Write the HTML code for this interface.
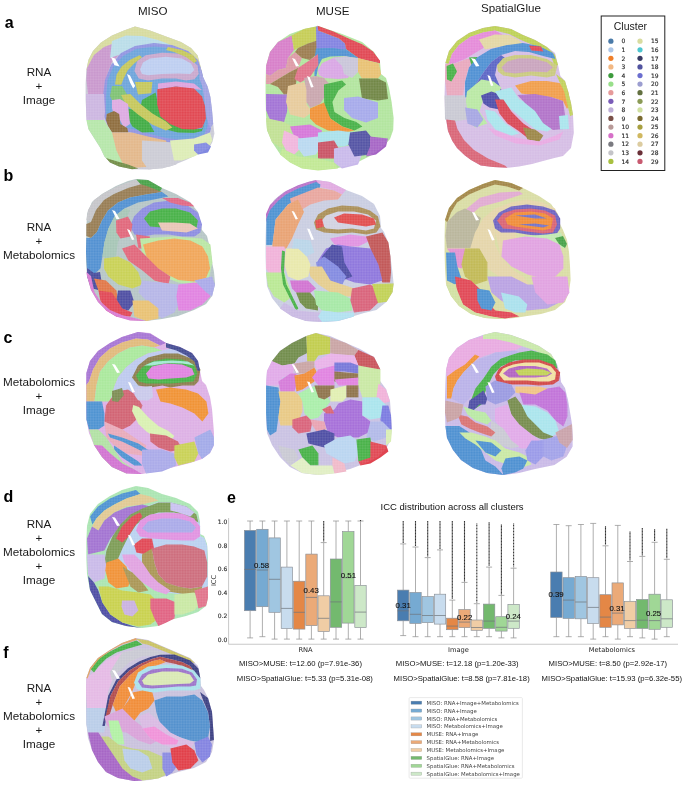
<!DOCTYPE html>
<html><head><meta charset="utf-8"><style>
html,body{margin:0;padding:0;background:#fff;}
body{width:685px;height:789px;overflow:hidden;}
svg{display:block;}
text{font-family:"Liberation Sans",Arial,sans-serif;fill:#1a1a1a;}
.hd{font-size:11.6px;}
.pl{font-size:16px;font-weight:bold;fill:#000;}
.rl{font-size:11.7px;}
.cl{font-size:10.5px;}
.ln{font-family:"DejaVu Sans",sans-serif;font-size:6px;fill:#222;stroke:#222;stroke-width:0.12px;}
.tk{font-family:"DejaVu Sans",sans-serif;font-size:6px;fill:#333;stroke:#333;stroke-width:0.15px;}
.yl{font-family:"DejaVu Sans",sans-serif;font-size:6.6px;fill:#333;}
.gl{font-family:"DejaVu Sans",sans-serif;font-size:6.7px;fill:#222;}
.lg{font-family:"DejaVu Sans",sans-serif;font-size:5.4px;fill:#444;}
.mn{font-size:7.8px;fill:#111;stroke:#111;stroke-width:0.12px;}
.ti{font-size:9.5px;fill:#111;}
.st{font-size:7.7px;fill:#111;}
.wh{stroke:#939393;stroke-width:0.75;}
.ol{stroke:#333;stroke-width:1.1;stroke-dasharray:1.2 0.3;}
.bx{stroke:#8a8f96;stroke-width:0.65;}
.md{stroke:#6f747a;stroke-width:0.7;}
</style></head><body>
<svg width="685" height="789" viewBox="0 0 685 789">
<rect width="685" height="789" fill="#fff"/>
<defs><pattern id="gr" width="8" height="8" patternUnits="userSpaceOnUse"><rect width="8" height="2" fill="#fff" fill-opacity="0.16"/><rect width="2" height="8" fill="#fff" fill-opacity="0.16"/></pattern></defs>
<g transform="translate(82,20) scale(0.2)">
<polygon fill="#c9c9d6" points="265,33 340,52 420,82 495,110 545,140 578,178 592,230 604,282 628,332 642,385 650,450 656,520 662,568 652,610 636,640 600,660 560,680 520,700 440,732 340,748 255,746 185,732 140,712 112,682 92,640 62,592 32,545 22,480 18,400 18,320 22,250 32,200 55,155 95,112 150,78 210,52"/>
<polygon fill="#d6da9c" points="22,250 32,200 55,155 95,112 150,78 210,52 265,33 340,52 420,82 495,110 545,140 578,178 592,230 604,282 580,290 560,220 520,170 440,130 350,100 270,80 200,95 140,125 90,165 60,215 40,260"/>
<polygon fill="#c896cc" points="25,240 60,175 110,135 170,112 210,130 190,170 150,210 130,260 120,320 110,370 30,370 22,300"/>
<polygon fill="#b8dce8" points="150,105 220,78 300,80 380,100 440,122 420,140 330,132 250,142 190,172 140,190"/>
<polygon fill="#8e92e0" points="105,380 115,300 145,225 195,165 265,130 360,115 450,125 530,155 580,200 600,260 612,320 632,380 645,460 645,545 630,590 560,610 480,620 420,612 350,592 280,572 200,552 130,530 105,470"/>
<polygon fill="#6aa2da" points="120,380 128,300 155,235 205,180 270,145 360,132 450,140 525,168 570,208 588,262 598,320 615,380 628,460 628,530 612,570 560,590 480,598 420,590 350,572 280,552 205,532 145,512 120,465"/>
<polygon fill="#c8a6cc" points="262,255 276,205 318,176 400,164 482,168 540,192 578,228 584,270 562,296 520,302 470,292 400,292 330,302 284,292"/>
<polygon fill="#bccdf0" points="290,248 305,212 340,193 420,184 500,193 545,218 562,250 542,270 480,268 400,270 330,276 300,270"/>
<polygon fill="#c4c658" points="430,135 500,150 555,175 575,205 560,215 520,185 460,160 420,150"/>
<polygon fill="#c4c658" points="165,322 173,272 198,232 238,200 288,176 300,186 262,216 228,252 208,292 196,324"/>
<polygon fill="#c4c658" points="265,310 352,310 346,366 280,372"/>
<polygon fill="#dca0dc" points="380,318 470,308 560,318 600,350 560,345 470,332 380,345"/>
<polygon fill="#3daa40" points="300,400 368,362 380,420 400,480 450,520 520,545 600,545 612,520 600,555 560,565 480,562 420,548 370,522 320,482 290,442"/>
<polygon fill="#3daa40" points="228,442 280,452 330,502 362,560 300,562 252,532 230,492"/>
<polygon fill="#7cc070" points="150,330 200,330 230,380 210,420 160,420 140,380"/>
<polygon fill="#e0444e" points="376,346 470,332 560,342 600,382 616,432 620,492 602,538 560,548 500,545 440,520 392,482 376,422"/>
<polygon fill="#c4c658" points="195,375 242,370 292,420 352,468 420,508 452,538 420,552 350,522 280,472 220,422"/>
<polygon fill="#dca8e0" points="150,400 190,395 230,420 240,520 210,540 190,500 160,480 150,440"/>
<polygon fill="#8c6a3a" points="124,470 160,455 186,470 192,520 226,540 232,562 150,562 130,530 120,500"/>
<polygon fill="#cbb4e0" points="20,370 110,370 115,460 110,500 70,510 22,500"/>
<polygon fill="#b4e6a8" points="22,500 110,500 130,532 150,562 172,602 202,652 222,702 182,730 140,710 112,682 92,640 62,592 32,545"/>
<polygon fill="#e2b688" points="150,562 250,562 330,582 420,602 440,652 420,702 350,732 250,740 205,720 172,652"/>
<polygon fill="#cbcbd4" points="300,602 460,612 482,662 472,722 400,742 330,746 300,702"/>
<polygon fill="#dcecb4" points="440,602 560,592 640,562 652,602 622,652 560,682 500,702 460,702"/>
<polygon fill="#8088e0" points="560,622 620,612 645,632 630,662 580,672 560,652"/>
<polygon fill="#6f8a42" points="120,690 160,702 230,722 282,742 250,746 185,732 140,712"/>
<polygon fill="#9ea0e2" points="590,230 604,282 628,332 642,385 650,450 656,520 640,542 622,482 612,402 602,332 587,292"/>
<polygon fill="#ffffff" points="145,185 165,192 188,232 162,226"/>
<polygon fill="#ffffff" points="225,270 240,278 266,330 256,342 240,312"/>
</g>
<g transform="translate(82,20) scale(0.2)"><polygon fill="url(#gr)" points="265,33 340,52 420,82 495,110 545,140 578,178 592,230 604,282 628,332 642,385 650,450 656,520 662,568 652,610 636,640 600,660 560,680 520,700 440,732 340,748 255,746 185,732 140,712 112,682 92,640 62,592 32,545 22,480 18,400 18,320 22,250 32,200 55,155 95,112 150,78 210,52" transform="scale(1)"/></g>
<g transform="translate(258,18) scale(0.2)">
<polygon fill="#b0e49c" points="300,40 420,80 520,120 580,170 610,220 615,280 640,300 655,350 668,420 678,500 676,560 660,605 620,650 560,690 480,730 400,750 300,760 220,750 160,720 110,680 70,620 45,560 40,480 38,400 38,320 40,240 60,170 100,120 160,80 230,55"/>
<polygon fill="#d67cc8" points="60,170 100,120 168,88 180,160 150,200 140,250 100,260 60,290 40,280 40,240"/>
<polygon fill="#dc98a4" points="40,280 60,290 100,260 140,250 150,200 185,170 220,200 200,250 160,270 110,300 60,330 40,330"/>
<polygon fill="#c4cc52" points="168,88 230,55 295,42 296,112 250,128 200,150 180,160"/>
<polygon fill="#9a7a4c" points="200,150 250,128 296,112 330,140 300,175 260,210 220,200 185,170"/>
<polygon fill="#9a7a4c" points="60,330 110,300 160,270 200,250 190,330 175,380 130,382 100,345"/>
<polygon fill="#8080e0" points="290,45 298,39 301,63 406,103 435,127 441,156 420,160 380,152 330,152 292,155"/>
<polygon fill="#e04450" points="298,39 377,68 453,103 523,133 575,168 610,214 610,226 505,203 441,156 435,127 406,103 301,63"/>
<polygon fill="#4e90d0" points="290,152 330,150 380,150 420,158 441,156 505,203 430,190 360,192 320,205 302,240 292,290 282,290 283,200"/>
<polygon fill="#e07088" points="200,250 260,210 300,180 302,235 262,292 212,322 182,305"/>
<polygon fill="#d8a4e4" points="300,262 320,226 380,198 440,192 470,200 470,260 450,300 400,305 330,300 305,285"/>
<polygon fill="#c8c4d8" points="380,200 440,192 500,200 500,270 470,300 430,280 420,240"/>
<polygon fill="#e8c070" points="500,200 605,228 615,282 600,302 520,302 500,270"/>
<polygon fill="#a070d4" points="40,380 150,382 145,470 130,520 60,510 40,460"/>
<polygon fill="#e6ca9a" points="150,340 230,320 262,380 242,430 272,470 230,500 160,482 140,420"/>
<polygon fill="#c8a4ac" points="230,300 290,290 330,300 360,332 330,400 310,430 262,450 242,420 242,360"/>
<polygon fill="#6e8442" points="505,302 600,302 640,322 650,405 600,412 520,402"/>
<polygon fill="#a4a8ea" points="430,400 500,392 600,422 600,500 540,522 470,500 430,460"/>
<polygon fill="#44b044" points="330,332 420,312 440,332 402,362 372,420 382,470 432,500 492,520 522,542 482,562 422,542 362,502 332,452 330,382"/>
<polygon fill="#f09034" points="260,452 330,422 362,502 422,542 482,562 432,572 350,562 290,532 260,502"/>
<polygon fill="#c0e092" points="40,500 130,520 170,542 160,600 120,652 70,620 45,560"/>
<polygon fill="#d474d8" points="160,542 260,532 320,562 310,602 240,612 180,592"/>
<polygon fill="#f0b4dc" points="130,562 200,592 222,642 182,682 140,662 120,622"/>
<polygon fill="#b8d8f0" points="200,602 300,592 320,632 290,682 230,692 200,652"/>
<polygon fill="#a8e0ea" points="300,572 400,562 480,572 500,612 430,642 340,642 300,612"/>
<polygon fill="#c85062" points="300,622 380,612 410,662 380,702 300,702"/>
<polygon fill="#c8b8ea" points="380,652 480,632 520,682 500,732 420,752 380,722"/>
<polygon fill="#5050a2" points="460,572 540,562 572,602 562,682 482,692 452,632"/>
<polygon fill="#a462c4" points="560,592 650,602 640,642 590,682 540,692 560,642"/>
<polygon fill="#c0e892" points="120,652 200,692 300,702 380,722 400,752 300,762 220,752 160,722 110,682"/>
<polygon fill="#ffffff" points="170,200 185,205 205,240 190,242"/>
<polygon fill="#ffffff" points="245,290 258,295 278,345 265,348"/>
</g>
<g transform="translate(258,18) scale(0.2)"><polygon fill="url(#gr)" points="300,40 420,80 520,120 580,170 610,220 615,280 640,300 655,350 668,420 678,500 676,560 660,605 620,650 560,690 480,730 400,750 300,760 220,750 160,720 110,680 70,620 45,560 40,480 38,400 38,320 40,240 60,170 100,120 160,80 230,55" transform="scale(1)"/></g>
<g transform="translate(435,15) scale(0.2)">
<polygon fill="#d4bce4" points="300,55 380,70 440,100 500,125 560,160 600,190 615,250 627,305 650,330 665,380 680,440 690,500 694,590 680,665 640,705 597,715 540,730 485,745 420,758 362,764 290,760 229,752 180,725 148,701 110,665 86,629 65,580 56,527 50,480 48,400 50,320 52,240 70,180 110,130 170,90 240,65"/>
<polygon fill="#bcd052" points="52,240 70,180 110,130 170,90 240,65 300,55 380,70 440,100 500,125 560,160 600,200 615,250 598,255 580,205 540,178 490,150 430,125 370,95 300,78 240,88 175,110 120,150 85,195 68,245"/>
<polygon fill="#e488d8" points="68,245 85,195 120,150 175,110 240,88 300,78 340,100 300,140 250,160 200,190 150,220 100,240"/>
<polygon fill="#e2d6a2" points="220,122 300,98 370,100 420,125 440,148 380,152 300,162 250,172"/>
<polygon fill="#e8a6bc" points="52,245 100,242 150,222 192,212 162,282 150,332 140,402 60,402 50,322"/>
<polygon fill="#44b044" points="58,255 90,242 110,282 82,332 60,322"/>
<polygon fill="#44b044" points="170,212 210,210 226,262 190,272"/>
<polygon fill="#4c8ed2" points="150,335 170,262 210,212 280,170 360,150 440,140 520,155 590,190 602,220 540,205 470,185 400,180 330,200 282,235 244,285 205,345 185,405 150,412"/>
<polygon fill="#5862c4" points="205,345 244,285 282,235 330,200 350,215 310,250 300,300 330,370 350,420 330,460 280,440 240,400"/>
<polygon fill="#e04452" points="470,152 530,157 542,182 482,177"/>
<polygon fill="#c8c87c" points="310,252 340,216 400,200 480,200 560,220 612,252 600,302 560,312 480,302 400,312 340,302 315,282"/>
<polygon fill="#c8a2bc" points="332,262 362,232 420,216 490,218 560,236 590,262 560,286 480,282 400,292 350,286"/>
<polygon fill="#b8e8a2" points="160,382 232,322 292,332 332,362 302,422 242,422 222,482 262,542 202,562 162,522 150,462"/>
<polygon fill="#4a4aa8" points="230,402 282,382 342,402 362,452 322,472 272,462 242,442"/>
<polygon fill="#a8e4ec" points="300,382 382,362 422,422 472,442 522,502 562,542 592,562 562,582 502,572 442,522 382,472 332,432"/>
<polygon fill="#a8e4ec" points="250,472 300,482 352,542 422,592 382,602 302,572 262,522"/>
<polygon fill="#d84452" points="300,422 342,422 382,482 442,542 502,582 522,622 472,622 422,582 362,542 322,492"/>
<polygon fill="#9a8444" points="440,562 500,572 542,602 522,632 462,622"/>
<polygon fill="#f09c48" points="400,352 480,330 560,330 622,340 665,380 675,440 660,470 640,430 580,410 500,402 432,392"/>
<polygon fill="#b070c8" points="412,400 500,395 580,410 640,430 650,500 645,570 590,575 540,540 500,480 450,440"/>
<polygon fill="#a8e4ec" points="620,505 665,500 670,570 625,572"/>
<polygon fill="#c0d058" points="605,295 650,330 665,380 680,440 690,500 675,505 660,440 645,380 620,330"/>
<polygon fill="#c8c8d2" points="48,402 150,402 160,462 160,522 100,532 50,522"/>
<polygon fill="#a4a4e2" points="150,462 212,472 242,522 212,562 162,542"/>
<polygon fill="#d86274" points="56,522 100,528 112,570 145,625 195,675 265,718 350,752 362,764 290,760 229,752 180,725 148,701 110,665 86,629 65,580"/>
<polygon fill="#e8a8e2" points="262,562 402,612 522,632 602,602 642,582 622,622 522,652 402,642 302,602"/>
<polygon fill="#ffffff" points="180,215 200,220 222,255 205,258"/>
<polygon fill="#ffffff" points="262,300 275,305 292,352 280,355"/>
</g>
<g transform="translate(435,15) scale(0.2)"><polygon fill="url(#gr)" points="300,55 380,70 440,100 500,125 560,160 600,190 615,250 627,305 650,330 665,380 680,440 690,500 694,590 680,665 640,705 597,715 540,730 485,745 420,758 362,764 290,760 229,752 180,725 148,701 110,665 86,629 65,580 56,527 50,480 48,400 50,320 52,240 70,180 110,130 170,90 240,65" transform="scale(1)"/></g>
<g transform="translate(82,172) scale(0.2)">
<polygon fill="#b4c4c4" points="270,35 330,40 400,80 470,110 540,150 580,200 595,260 600,290 625,320 640,380 650,450 660,500 665,560 650,620 620,660 560,690 480,720 400,735 320,745 240,740 170,720 120,690 80,650 45,590 25,520 20,440 20,360 22,280 25,210 50,150 100,110 170,70 230,45"/>
<polygon fill="#c4c4c8" points="22,240 30,190 60,140 110,105 180,70 250,45 272,38 300,60 230,80 160,110 110,140 70,190 45,250"/>
<polygon fill="#957a50" points="45,250 70,190 110,140 160,110 230,80 300,60 350,72 400,100 320,112 240,127 180,152 130,192 100,242 75,300 45,330 22,320 22,260"/>
<polygon fill="#44a044" points="272,38 330,40 400,80 390,96 330,72 292,60"/>
<polygon fill="#4e8ed0" points="22,330 45,330 75,300 100,242 130,192 180,152 240,127 320,112 400,100 432,122 360,137 280,152 212,182 162,222 132,282 112,352 102,422 92,482 60,512 25,490 20,400"/>
<polygon fill="#44489a" points="25,480 60,505 90,500 100,560 80,590 45,580 25,520"/>
<polygon fill="#a4c4b4" points="102,422 112,352 132,282 162,222 212,182 240,190 220,240 200,300 180,350 170,420 140,440"/>
<polygon fill="#8a8ae0" points="240,272 260,222 300,182 360,152 440,142 520,162 580,202 600,262 592,302 562,322 502,322 432,312 362,312 302,322 262,312"/>
<polygon fill="#44b044" points="310,232 340,197 400,182 470,182 540,202 580,242 572,282 522,292 462,282 400,277 340,272"/>
<polygon fill="#e8c4b4" points="380,252 460,252 540,257 580,282 522,302 462,297 400,292"/>
<polygon fill="#e06480" points="400,130 480,130 540,152 562,172 500,167 440,152"/>
<polygon fill="#e06478" points="170,242 230,222 252,262 242,322 192,332 172,302"/>
<polygon fill="#e06478" points="270,312 340,322 332,382 282,382"/>
<polygon fill="#b8e6a2" points="290,332 460,322 600,332 642,362 652,452 632,542 562,562 480,552 400,520 330,460 300,400"/>
<polygon fill="#f0a456" points="305,362 382,342 462,332 542,342 602,372 630,422 640,482 620,530 560,548 482,540 422,510 362,470 322,422"/>
<polygon fill="#e06478" points="200,382 262,362 322,422 382,482 442,522 432,562 362,542 302,492 232,442"/>
<polygon fill="#c8d052" points="110,432 180,422 242,452 282,502 302,562 252,582 182,562 132,522 110,482"/>
<polygon fill="#b4b4e6" points="300,542 400,552 482,562 502,622 462,702 400,732 362,702 322,642 282,602"/>
<polygon fill="#e080e0" points="482,562 562,552 622,562 642,622 602,662 542,692 482,692 472,622"/>
<polygon fill="#a8a8e8" points="562,542 650,522 665,562 650,622 622,602"/>
<polygon fill="#e07444" points="60,532 120,542 172,592 182,652 122,622 82,592"/>
<polygon fill="#4a4aa0" points="180,592 242,592 262,652 232,692 192,682 172,642"/>
<polygon fill="#e04452" points="82,592 150,602 202,682 252,702 242,722 172,722 122,692 92,642"/>
<polygon fill="#e8c070" points="252,642 332,642 382,682 382,732 322,745 262,722"/>
<polygon fill="#d878d0" points="22,500 45,520 62,600 122,692 80,650 45,590 25,520"/>
<polygon fill="#d878d0" points="95,650 140,690 200,715 280,735 320,745 240,742 170,722 120,692"/>
<polygon fill="#ffffff" points="150,190 165,195 188,235 172,235"/>
<polygon fill="#ffffff" points="225,285 238,290 262,338 250,340"/>
</g>
<g transform="translate(82,172) scale(0.2)"><polygon fill="url(#gr)" points="270,35 330,40 400,80 470,110 540,150 580,200 595,260 600,290 625,320 640,380 650,450 660,500 665,560 650,620 620,660 560,690 480,720 400,735 320,745 240,740 170,720 120,690 80,650 45,590 25,520 20,440 20,360 22,280 25,210 50,150 100,110 170,70 230,45" transform="scale(1)"/></g>
<g transform="translate(258,172) scale(0.2)">
<polygon fill="#c8cce0" points="290,40 360,50 440,90 520,120 580,160 610,220 615,280 630,300 650,350 662,420 672,500 678,558 673,600 643,649 592,690 530,705 480,720 400,740 320,750 240,745 170,720 110,680 70,630 45,570 40,500 38,420 38,340 40,260 50,200 80,140 130,100 200,70 250,50"/>
<polygon fill="#e0a8e0" points="290,40 360,50 440,90 420,112 380,92 300,72"/>
<polygon fill="#b870c8" points="40,210 60,165 100,125 140,95 200,66 250,50 290,40 300,55 240,75 180,102 130,132 90,172 60,222 42,250"/>
<polygon fill="#4a90d0" points="42,235 60,190 100,145 140,112 200,82 290,50 312,62 310,78 238,110 150,162 88,238 72,365 41,365"/>
<polygon fill="#e8a49c" points="160,132 300,77 380,92 420,112 400,137 330,142 262,162 212,192 182,222"/>
<polygon fill="#e8a070" points="72,365 88,238 150,162 200,137 230,200 200,262 170,332 142,382 72,385"/>
<polygon fill="#a88c54" points="280,252 300,212 350,182 420,167 500,172 560,192 600,222 612,272 592,302 542,312 472,302 400,307 330,302 290,287"/>
<polygon fill="#d0d0e0" points="310,252 340,217 400,197 480,197 550,212 590,242 580,282 540,292 470,282 400,287 340,282"/>
<polygon fill="#e04a4a" points="380,227 430,207 520,212 580,232 590,262 540,272 470,262 400,252"/>
<polygon fill="#e04a4a" points="286,242 320,232 330,272 292,282"/>
<polygon fill="#e090e0" points="360,332 460,312 542,322 562,342 502,372 432,372 382,362"/>
<polygon fill="#c05454" points="540,322 622,302 652,352 662,422 665,500 660,552 622,552 582,462 562,382"/>
<polygon fill="#8c74dc" points="300,442 340,382 400,362 462,372 562,382 602,462 622,542 562,562 482,552 400,522 320,492"/>
<polygon fill="#4a4aa2" points="320,422 370,362 420,372 432,452 472,522 420,542 362,512 312,482"/>
<polygon fill="#8088e0" points="290,452 330,422 400,472 442,522 422,562 350,552 300,502"/>
<polygon fill="#e4cc8c" points="250,472 320,472 362,542 422,562 482,582 502,622 442,622 362,602 302,562 262,522"/>
<polygon fill="#f0b0d8" points="40,372 132,372 142,422 132,502 60,512 40,482"/>
<polygon fill="#e8e8aa" points="140,382 200,382 240,412 262,462 252,522 200,542 150,522 132,462"/>
<polygon fill="#b8d4e8" points="180,332 262,342 282,402 242,422 202,382 170,382"/>
<polygon fill="#b8e892" points="40,502 132,502 152,562 172,622 132,652 80,622 50,572"/>
<polygon fill="#44b044" points="120,392 135,397 130,502 142,562 172,622 202,682 190,692 160,632 125,562 115,482"/>
<polygon fill="#d070d0" points="160,542 250,542 290,582 250,612 190,602 170,582"/>
<polygon fill="#6e8a44" points="190,602 260,602 300,652 300,692 240,682 210,652"/>
<polygon fill="#a4e8a4" points="280,592 400,602 462,632 472,692 400,702 320,692 290,662"/>
<polygon fill="#c8b8e2" points="130,652 200,692 300,702 400,722 480,722 400,745 320,750 240,745 170,722 110,682"/>
<polygon fill="#d86078" points="470,582 560,562 600,582 612,642 560,692 480,702 462,642"/>
<polygon fill="#c0d052" points="570,560 678,558 673,600 643,649 600,655 585,610"/>
<polygon fill="#b0e0f0" points="320,692 400,702 480,702 480,722 400,745 320,750 300,722"/>
<polygon fill="#ffffff" points="168,195 180,198 200,235 188,238"/>
<polygon fill="#ffffff" points="245,282 258,285 280,338 268,340"/>
</g>
<g transform="translate(258,172) scale(0.2)"><polygon fill="url(#gr)" points="290,40 360,50 440,90 520,120 580,160 610,220 615,280 630,300 650,350 662,420 672,500 678,558 673,600 643,649 592,690 530,705 480,720 400,740 320,750 240,745 170,720 110,680 70,630 45,570 40,500 38,420 38,340 40,260 50,200 80,140 130,100 200,70 250,50" transform="scale(1)"/></g>
<g transform="translate(435,172) scale(0.2)">
<polygon fill="#d8dca2" points="300,40 380,55 450,85 520,120 580,160 615,210 625,260 640,290 660,340 670,400 675,470 678,540 670,600 650,650 600,690 530,710 460,720 400,730 320,735 250,730 180,710 120,670 80,620 55,560 50,480 48,400 48,320 50,240 70,180 110,130 170,90 240,60"/>
<polygon fill="#a08444" points="50,240 70,180 110,130 170,90 240,60 300,40 380,55 440,80 420,92 360,72 300,62 240,82 170,112 110,152 80,202 62,252"/>
<polygon fill="#e0a8d0" points="150,190 225,129 324,103 422,97 440,110 422,116 324,149 225,175 190,205"/>
<polygon fill="#b8b49a" points="60,250 110,200 150,182 190,202 230,230 210,300 180,380 60,380 52,320"/>
<polygon fill="#e4d4a8" points="170,402 200,302 240,232 300,182 380,152 460,137 540,152 600,182 612,212 560,192 480,182 400,202 330,242 300,302 300,362 330,422 380,482 440,522 472,562 400,562 320,522 262,482 222,442"/>
<polygon fill="#e4d4a8" points="300,302 330,262 400,300 420,360 380,420 330,422"/>
<polygon fill="#6a60c0" points="290,242 320,202 380,172 460,162 540,172 600,192 626,232 626,282 600,322 540,322 460,312 400,302 330,302 300,282"/>
<polygon fill="#d86070" points="310,242 340,207 400,187 480,182 550,192 600,217 610,262 590,302 540,307 460,297 400,287 340,282"/>
<polygon fill="#f08a34" points="350,232 400,202 480,197 550,207 590,232 580,282 540,292 470,282 400,272 362,262"/>
<polygon fill="#7070c8" points="400,217 500,212 560,232 500,232"/>
<polygon fill="#7070c8" points="420,262 500,257 570,267 540,277"/>
<polygon fill="#c0e8b0" points="420,322 560,312 630,302 650,362 642,382 600,352 540,332"/>
<polygon fill="#e0a0e0" points="340,342 450,322 560,332 622,362 642,422 642,482 602,522 542,532 462,512 382,472 332,422"/>
<polygon fill="#44a044" points="600,330 640,320 660,360 650,380 620,360"/>
<polygon fill="#e090d0" points="60,382 150,382 162,442 132,482 100,472 90,422"/>
<polygon fill="#4a8ed0" points="55,402 100,402 112,472 132,532 100,562 60,542"/>
<polygon fill="#c0b852" points="150,382 222,382 262,452 262,542 202,562 150,522 132,462"/>
<polygon fill="#b8a0e2" points="262,522 382,522 462,562 562,562 622,582 642,642 562,682 462,692 400,682 330,642 282,602"/>
<polygon fill="#e0a0e0" points="482,522 602,522 662,522 672,602 642,652 562,662 502,602"/>
<polygon fill="#e04452" points="100,522 180,542 222,582 252,642 302,692 382,702 422,722 350,732 280,722 200,702 140,662 110,602"/>
<polygon fill="#4a90d0" points="210,582 272,592 302,652 282,692 232,682 212,642"/>
<polygon fill="#a8e0ec" points="330,602 420,622 462,662 452,702 400,702 350,682"/>
<polygon fill="#d0e0a0" points="55,562 100,562 140,662 200,702 280,722 350,735 250,730 180,710 120,670 80,620"/>
<polygon fill="#ffffff" points="185,200 198,203 220,240 205,242"/>
<polygon fill="#ffffff" points="262,285 275,290 298,340 285,342"/>
</g>
<g transform="translate(435,172) scale(0.2)"><polygon fill="url(#gr)" points="300,40 380,55 450,85 520,120 580,160 615,210 625,260 640,290 660,340 670,400 675,470 678,540 670,600 650,650 600,690 530,710 460,720 400,730 320,735 250,730 180,710 120,670 80,620 55,560 50,480 48,400 48,320 50,240 70,180 110,130 170,90 240,60" transform="scale(1)"/></g>
<g transform="translate(82,325) scale(0.2)">
<polygon fill="#dcaee4" points="280,35 340,40 420,90 490,110 550,140 580,180 590,230 600,280 620,300 640,360 650,420 655,480 660,540 660,600 640,640 600,670 540,690 460,710 380,730 300,745 220,740 150,710 100,660 60,600 35,540 22,470 20,400 20,320 22,240 40,180 80,130 140,90 200,60"/>
<polygon fill="#a472d2" points="22,240 40,180 80,130 140,90 200,60 280,35 340,42 420,90 390,102 330,72 270,67 200,87 140,117 90,162 55,222 35,282 22,300"/>
<polygon fill="#e0b878" points="22,300 35,282 55,222 90,162 140,117 200,87 270,67 330,72 390,102 360,112 300,102 240,112 180,142 130,182 90,232 72,302 62,382 22,382"/>
<polygon fill="#a8e89a" points="62,382 72,302 90,232 130,182 180,142 240,112 300,102 360,112 402,127 330,142 270,172 220,212 180,262 160,312 142,382"/>
<polygon fill="#bcc8ee" points="142,382 160,312 180,262 220,212 270,172 330,142 402,127 440,117 500,127 560,152 582,202 440,250 300,300 250,340 200,360"/>
<polygon fill="#8a7a4a" points="250,262 280,202 330,162 410,142 480,142 560,172 592,222 582,282 562,302 502,302 442,312 402,302 342,312 282,302"/>
<polygon fill="#44b044" points="270,252 300,212 350,182 420,167 500,172 560,197 577,242 557,282 502,287 442,292 382,292 322,292 285,282"/>
<polygon fill="#e080e0" points="320,242 350,207 420,192 500,197 550,217 562,247 522,262 442,267 382,272 332,267"/>
<polygon fill="#a0e8d0" points="310,202 360,182 450,177 530,182 562,202 502,192 430,190 350,202"/>
<polygon fill="#404890" points="420,90 490,110 550,140 580,180 590,230 577,227 562,182 522,152 472,127 420,112"/>
<polygon fill="#d06070" points="120,402 170,332 230,322 272,352 302,402 282,462 242,502 202,522 152,522 112,482"/>
<polygon fill="#4a90d0" points="22,382 100,382 112,442 112,502 82,522 35,522 22,472"/>
<polygon fill="#f09030" points="370,322 440,312 520,322 580,342 622,382 632,442 602,482 562,442 502,412 442,392 392,382"/>
<polygon fill="#d8f0b0" points="256,400 285,410 330,460 382,505 432,530 462,555 442,580 382,572 322,532 282,495 250,430"/>
<polygon fill="#c8c8ea" points="265,312 350,305 355,360 330,378 280,376 262,350"/>
<polygon fill="#7a8a50" points="150,330 200,315 210,350 180,385 150,380"/>
<polygon fill="#d06070" points="340,542 420,552 480,582 502,622 442,632 382,612 342,582"/>
<polygon fill="#e8a8b8" points="112,482 202,522 262,562 322,602 302,652 222,642 162,602 122,562"/>
<polygon fill="#4a90d0" points="130,542 200,562 282,592 342,632 322,642 262,612 200,582 140,562"/>
<polygon fill="#4a90d0" points="160,602 220,642 282,682 302,702 262,702 200,662 160,622"/>
<polygon fill="#b0e0a2" points="35,522 82,522 122,562 162,622 202,682 262,722 222,742 150,710 100,660 60,600"/>
<polygon fill="#d070d0" points="60,600 100,660 150,710 222,742 300,745 262,722 202,692 142,642 100,602"/>
<polygon fill="#a8a8e8" points="300,622 400,622 462,642 472,702 400,732 320,742 300,692"/>
<polygon fill="#c8d052" points="462,602 562,582 582,642 562,682 482,702 462,662"/>
<polygon fill="#a0a8e8" points="562,562 642,522 660,562 660,600 640,640 600,670 582,642"/>
<polygon fill="#ffffff" points="150,195 165,198 190,238 175,240"/>
<polygon fill="#ffffff" points="230,285 242,288 265,335 252,338"/>
</g>
<g transform="translate(82,325) scale(0.2)"><polygon fill="url(#gr)" points="280,35 340,40 420,90 490,110 550,140 580,180 590,230 600,280 620,300 640,360 650,420 655,480 660,540 660,600 640,640 600,670 540,690 460,710 380,730 300,745 220,740 150,710 100,660 60,600 35,540 22,470 20,400 20,320 22,240 40,180 80,130 140,90 200,60" transform="scale(1)"/></g>
<g transform="translate(258,325) scale(0.2)">
<polygon fill="#c8c0e2" points="290,40 360,55 440,90 510,120 580,160 610,220 610,280 640,320 660,380 665,450 670,520 660,580 640,620 600,660 540,690 460,720 380,740 300,750 220,740 160,710 110,660 70,600 45,540 40,460 40,380 40,300 45,230 70,180 110,130 170,90 240,55"/>
<polygon fill="#6e8a48" points="70,180 110,130 170,90 242,55 246,140 202,162 182,192 122,202 80,202"/>
<polygon fill="#c0cc4a" points="242,55 290,40 362,62 362,142 302,152 282,182 246,182"/>
<polygon fill="#c8a2a2" points="362,62 440,90 502,125 482,152 402,147 362,142"/>
<polygon fill="#c85058" points="502,125 580,160 612,222 542,222 502,202 482,152"/>
<polygon fill="#e8b0e8" points="282,182 362,142 482,152 502,202 452,197 382,202 332,212 292,222"/>
<polygon fill="#c8a2a2" points="182,192 246,182 282,182 282,212 232,242 192,242 177,217"/>
<polygon fill="#e0a8e8" points="45,230 70,180 122,202 182,192 177,242 122,262 102,302 40,302"/>
<polygon fill="#d478d8" points="102,282 162,242 192,242 192,302 182,332 112,332"/>
<polygon fill="#f08a34" points="182,252 232,242 282,212 292,232 282,282 252,302 222,322 192,332"/>
<polygon fill="#e080e0" points="270,262 302,222 382,202 422,202 422,222 382,262 382,302 302,302"/>
<polygon fill="#7474d8" points="382,187 462,187 502,202 502,242 432,232 382,232"/>
<polygon fill="#8c7048" points="382,232 502,242 502,272 422,282 382,282"/>
<polygon fill="#e080e0" points="382,272 502,262 502,302 402,302"/>
<polygon fill="#c8e8a2" points="502,202 612,222 612,292 602,362 522,362 502,302"/>
<polygon fill="#f0b0d8" points="602,292 640,322 660,382 622,392 592,362"/>
<polygon fill="#4a8ed0" points="40,302 102,312 112,382 102,462 92,532 60,552 45,522 40,442"/>
<polygon fill="#e8c882" points="102,332 182,332 222,362 222,432 202,482 172,502 112,502 102,462 112,382"/>
<polygon fill="#a8eea8" points="202,342 262,312 292,302 332,332 362,382 332,422 302,462 262,472 232,442 222,382"/>
<polygon fill="#8c7048" points="282,302 382,302 382,342 332,372 302,362"/>
<polygon fill="#e0eeb0" points="362,322 442,302 442,362 422,382 362,382"/>
<polygon fill="#8c7048" points="442,302 502,302 502,362 442,362"/>
<polygon fill="#a46cd8" points="330,442 382,422 402,392 462,372 522,382 522,452 562,482 562,532 502,562 442,562 402,562 352,542 330,482"/>
<polygon fill="#d86070" points="320,422 362,402 382,442 342,442"/>
<polygon fill="#a8e4ec" points="522,362 602,362 642,402 622,462 562,472 522,452"/>
<polygon fill="#7878e0" points="622,402 652,402 665,452 668,522 622,522 612,472"/>
<polygon fill="#b0b8e8" points="562,482 622,482 662,522 642,562 582,582 542,562"/>
<polygon fill="#d8eeb2" points="640,522 670,522 665,582 640,602"/>
<polygon fill="#d86078" points="172,472 242,452 272,482 262,532 202,542 172,512"/>
<polygon fill="#e8a0b0" points="262,472 332,482 342,522 292,532 272,502"/>
<polygon fill="#4a4aa2" points="242,542 332,522 382,542 382,602 332,612 252,592"/>
<polygon fill="#c8c8d2" points="100,602 182,622 202,662 162,702 122,662"/>
<polygon fill="#44b044" points="202,622 272,602 302,642 302,702 262,702 222,662"/>
<polygon fill="#b8d4f0" points="330,602 402,562 462,552 502,582 502,642 482,682 432,692 382,662 342,642"/>
<polygon fill="#44b044" points="492,572 562,562 572,622 562,672 502,682"/>
<polygon fill="#e04450" points="562,582 642,602 652,632 612,662 562,692 512,702 502,682 562,662"/>
<polygon fill="#f0b8c8" points="372,662 432,692 442,732 382,742 372,702"/>
<polygon fill="#e0eec2" points="162,702 222,662 262,702 302,702 372,702 382,742 300,750 220,740"/>
<polygon fill="#ffffff" points="168,195 180,198 205,238 192,240"/>
<polygon fill="#ffffff" points="245,282 258,285 280,335 268,338"/>
</g>
<g transform="translate(258,325) scale(0.2)"><polygon fill="url(#gr)" points="290,40 360,55 440,90 510,120 580,160 610,220 610,280 640,320 660,380 665,450 670,520 660,580 640,620 600,660 540,690 460,720 380,740 300,750 220,740 160,710 110,660 70,600 45,540 40,460 40,380 40,300 45,230 70,180 110,130 170,90 240,55" transform="scale(1)"/></g>
<g transform="translate(435,320) scale(0.2)">
<polygon fill="#c8b8e6" points="300,60 380,75 450,100 520,130 580,170 610,220 625,270 630,310 650,340 665,400 675,460 685,520 688,580 688,633 658,684 597,725 500,745 420,765 340,775 260,765 190,740 130,700 90,650 60,590 52,530 50,460 50,390 52,320 55,250 70,190 110,140 170,100 240,75"/>
<polygon fill="#e8a8e0" points="55,250 70,190 110,140 170,100 240,80 300,90 380,110 440,130 400,152 300,162 240,182 200,202 150,232 100,262 60,302"/>
<polygon fill="#c8e8a8" points="240,75 300,60 380,75 450,100 520,130 580,170 600,202 560,182 500,152 440,132 380,112 300,95 240,95"/>
<polygon fill="#f09034" points="60,282 100,252 150,222 200,172 222,182 182,222 142,262 112,302 92,342 82,392 60,392"/>
<polygon fill="#b8b0e8" points="82,392 92,342 112,302 142,262 182,222 222,192 262,182 300,162 400,152 422,162 330,192 282,232 242,292 202,342 172,392 142,422"/>
<polygon fill="#44b044" points="172,422 202,342 242,292 282,232 330,192 422,162 482,152 562,172 602,202 612,242 562,222 482,202 400,202 330,232 292,272 262,332 242,382 232,422 202,442"/>
<polygon fill="#d04444" points="300,282 320,242 370,212 440,197 520,197 590,222 626,262 620,302 590,322 520,327 460,322 400,322 340,322 310,312"/>
<polygon fill="#f0e0a2" points="320,272 340,242 390,222 450,212 520,212 580,232 605,262 600,297 570,307 520,307 460,302 400,302 345,302"/>
<polygon fill="#b060c0" points="340,267 370,242 420,230 500,230 560,242 585,267 560,282 500,287 430,287 370,287"/>
<polygon fill="#c0d052" points="400,252 460,242 540,247 580,262 560,277 480,277 420,277"/>
<polygon fill="#4a4aa2" points="172,402 202,382 242,352 262,392 252,422 222,422 192,452 162,462"/>
<polygon fill="#9898e0" points="252,332 300,302 382,322 402,362 362,402 302,422 262,402"/>
<polygon fill="#f0c282" points="402,332 522,332 562,342 552,382 502,382 442,372 402,362"/>
<polygon fill="#c070d8" points="422,362 502,372 562,342 622,332 652,362 662,422 662,482 642,532 602,502 562,452 502,422 442,422"/>
<polygon fill="#a8e4ec" points="422,422 502,432 562,462 602,502 622,562 582,582 522,572 462,522 422,482"/>
<polygon fill="#748a4a" points="362,402 402,382 432,422 462,482 502,522 542,562 592,582 572,602 522,592 462,562 412,522 382,472"/>
<polygon fill="#e0a8e8" points="300,442 362,422 382,472 422,522 472,562 522,602 502,642 432,642 382,622 342,562 300,502"/>
<polygon fill="#c8c8d2" points="282,502 342,542 382,602 422,632 382,642 322,622 272,582"/>
<polygon fill="#b8e8a2" points="142,432 202,452 252,462 282,502 262,522 202,502 162,472"/>
<polygon fill="#d87070" points="112,472 162,482 202,512 262,532 302,562 282,582 222,562 172,542 132,522"/>
<polygon fill="#c8a0a2" points="52,402 142,422 132,472 112,492 60,512 50,462"/>
<polygon fill="#a0a0e8" points="522,602 602,582 642,562 662,622 642,682 582,702 542,682"/>
<polygon fill="#c8a0a8" points="602,562 685,520 688,600 660,640 622,612"/>
<polygon fill="#4a8ed0" points="52,530 122,530 172,562 202,602 232,652 252,702 302,732 342,775 260,765 190,740 130,700 90,650 60,590"/>
<polygon fill="#c8e8a2" points="122,562 182,562 252,582 302,602 352,642 422,662 462,682 482,722 422,742 362,722 302,702 252,662 202,622 152,592"/>
<polygon fill="#4a8ed0" points="202,602 282,612 332,652 302,682 252,662"/>
<polygon fill="#4a8ed0" points="352,692 422,682 462,702 442,742 400,762 342,775 332,742"/>
<polygon fill="#9898e8" points="482,602 542,602 542,682 502,722 462,702 452,652"/>
<polygon fill="#ffffff" points="180,218 195,222 220,262 205,265"/>
<polygon fill="#ffffff" points="262,310 275,314 298,362 285,365"/>
</g>
<g transform="translate(435,320) scale(0.2)"><polygon fill="url(#gr)" points="300,60 380,75 450,100 520,130 580,170 610,220 625,270 630,310 650,340 665,400 675,460 685,520 688,580 688,633 658,684 597,725 500,745 420,765 340,775 260,765 190,740 130,700 90,650 60,590 52,530 50,460 50,390 52,320 55,250 70,190 110,140 170,100 240,75" transform="scale(1)"/></g>
<g transform="translate(82,478) scale(0.2)">
<polygon fill="#a8e4b0" points="270,40 330,50 400,80 470,100 540,130 580,170 590,220 590,280 610,290 625,330 630,400 630,470 630,540 630,600 620,640 580,670 520,690 440,710 380,740 300,750 220,740 150,720 100,680 70,620 40,560 25,480 22,400 22,320 25,240 40,180 80,130 140,90 200,60"/>
<polygon fill="#b8d0f0" points="110,420 120,360 150,290 190,230 240,180 300,150 380,120 440,120 520,140 570,180 590,230 592,290 612,300 626,340 630,540 600,560 480,580 380,570 300,520 200,450"/>
<polygon fill="#4a90d0" points="40,192 80,142 140,102 200,77 270,60 292,80 222,102 162,132 112,162 72,202 52,232"/>
<polygon fill="#e0c890" points="50,242 72,202 112,162 162,132 222,102 292,80 342,92 382,112 302,132 222,142 162,172 112,212 82,262"/>
<polygon fill="#a070d0" points="25,302 50,242 82,262 112,212 162,172 222,147 302,132 342,142 282,172 222,202 182,252 142,302 112,362 30,382"/>
<polygon fill="#7a9a52" points="112,422 122,362 152,292 192,232 242,182 302,152 382,122 442,122 522,142 572,182 582,222 522,192 462,172 382,172 322,192 272,232 232,292 202,352 172,422 142,462"/>
<polygon fill="#e04452" points="170,302 200,242 250,192 290,172 302,192 262,242 232,292 202,322"/>
<polygon fill="#e04452" points="260,332 300,302 350,302 362,362 322,382 272,372"/>
<polygon fill="#e090e0" points="270,262 290,212 340,182 420,172 500,177 560,202 590,242 590,292 560,312 500,312 420,307 350,302 290,292"/>
<polygon fill="#a8a8e8" points="300,252 330,217 400,202 480,202 540,217 570,247 550,272 480,272 400,272 330,272"/>
<polygon fill="#c8c0f0" points="442,122 522,142 562,172 542,192 482,172 442,162"/>
<polygon fill="#a89452" points="300,382 350,352 362,422 382,482 422,522 482,542 542,552 602,542 592,572 522,582 462,572 402,562 342,522 300,462"/>
<polygon fill="#cc6a7a" points="350,352 420,332 500,332 560,342 612,362 626,422 626,492 600,542 540,552 480,542 420,522 382,482 362,422"/>
<polygon fill="#e0a0e0" points="200,382 262,382 302,422 342,482 382,522 442,562 422,582 362,562 302,522 242,462 212,422"/>
<polygon fill="#c8b8e8" points="25,382 112,382 122,442 112,502 60,522 30,482"/>
<polygon fill="#f09034" points="122,422 182,402 222,442 242,502 232,542 172,552 132,522 117,462"/>
<polygon fill="#a89452" points="202,442 252,472 302,522 332,562 282,572 242,542"/>
<polygon fill="#4a4aa2" points="30,490 60,522 82,562 102,622 142,682 202,722 262,742 300,750 220,740 150,720 100,680 70,620 40,560"/>
<polygon fill="#c8d04a" points="82,542 132,542 202,562 282,572 342,582 382,622 382,702 342,732 282,742 202,722 142,682 102,622"/>
<polygon fill="#c8b0e0" points="200,612 262,612 282,662 252,692 212,682 197,642"/>
<polygon fill="#e06080" points="342,602 422,602 472,622 462,702 422,722 382,740 362,702 342,652"/>
<polygon fill="#c8e8a2" points="462,582 562,572 592,622 562,662 502,682 462,682"/>
<polygon fill="#e07088" points="562,562 630,542 630,600 620,640 582,652 572,602"/>
<polygon fill="#ffffff" points="150,195 165,198 190,238 175,240"/>
<polygon fill="#ffffff" points="230,285 242,288 265,335 252,338"/>
</g>
<g transform="translate(82,478) scale(0.2)"><polygon fill="url(#gr)" points="270,40 330,50 400,80 470,100 540,130 580,170 590,220 590,280 610,290 625,330 630,400 630,470 630,540 630,600 620,640 580,670 520,690 440,710 380,740 300,750 220,740 150,720 100,680 70,620 40,560 25,480 22,400 22,320 25,240 40,180 80,130 140,90 200,60" transform="scale(1)"/></g>
<g transform="translate(82,632) scale(0.2)">
<polygon fill="#c8c0dc" points="270,30 330,40 400,70 470,100 540,130 580,170 590,220 595,270 610,290 630,330 650,400 655,470 660,540 650,600 620,650 560,680 480,700 420,720 340,740 260,745 180,730 120,700 80,650 50,590 30,530 22,460 20,380 20,300 22,230 40,180 80,130 140,90 200,55"/>
<polygon fill="#e4b8e4" points="20,300 22,230 60,200 120,142 200,102 290,82 300,120 220,162 180,202 150,242 130,300 120,380 25,380"/>
<polygon fill="#c8c8d2" points="200,102 290,82 380,92 422,112 300,122 240,150 180,202 150,242 140,200"/>
<polygon fill="#44b044" points="40,182 80,132 140,97 200,67 272,42 302,62 232,82 172,102 122,132 82,172 60,202"/>
<polygon fill="#c8c060" points="272,34 330,42 400,72 470,102 540,132 565,155 540,150 470,120 400,92 330,64 300,58"/>
<polygon fill="#e0a060" points="22,230 40,180 80,130 140,90 200,55 270,30 275,40 200,62 140,95 84,136 45,186 28,232"/>
<polygon fill="#b8cce8" points="22,380 122,380 120,460 110,502 30,502 22,460"/>
<polygon fill="#383c80" points="102,470 131,319 171,239 228,182 285,148 342,125 390,114 462,112 542,142 582,182 592,232 572,215 540,170 500,150 430,132 390,124 353,134 296,157 239,191 182,245 142,319 114,470"/>
<polygon fill="#b04848" points="114,440 142,319 182,245 239,191 296,157 353,134 390,124 430,132 500,150 540,170 572,215 560,222 520,180 470,160 420,150 390,137 353,145 296,171 239,216 188,273 154,364 130,440"/>
<polygon fill="#f08a34" points="154,364 188,273 239,216 296,171 353,145 390,137 420,150 380,165 330,185 290,215 270,250 250,300 225,345 200,390 170,400"/>
<polygon fill="#a8e0ea" points="260,252 280,202 330,172 420,162 500,167 560,192 592,232 592,282 562,292 502,292 432,292 362,302 302,297 272,282"/>
<polygon fill="#9a70c8" points="280,247 300,212 350,187 420,180 500,184 550,202 575,237 570,267 540,272 480,272 420,277 350,282 300,277"/>
<polygon fill="#d8e8b2" points="300,242 330,212 400,197 480,197 540,212 560,242 540,257 480,260 420,264 350,267 310,262"/>
<polygon fill="#f08a34" points="252,302 302,292 352,302 362,342 332,382 292,402 262,442 222,422 202,382 232,342"/>
<polygon fill="#d8a0d8" points="112,422 202,382 262,442 302,472 342,502 382,542 342,562 282,542 222,502 152,492 122,462"/>
<polygon fill="#383c80" points="590,300 630,330 650,400 655,470 660,540 640,545 640,470 630,400 605,340"/>
<polygon fill="#4f8ecc" points="362,342 422,322 502,322 562,312 602,342 630,402 640,472 630,532 600,552 540,542 480,522 432,502 392,462 372,402"/>
<polygon fill="#d8b8e2" points="282,422 332,402 382,442 442,502 502,532 562,552 542,582 462,582 402,562 342,532 302,482"/>
<polygon fill="#f090d8" points="302,482 362,472 422,512 482,542 472,562 402,562 342,532"/>
<polygon fill="#b0f0a2" points="132,442 182,442 202,502 212,562 162,562 142,502"/>
<polygon fill="#c2d080" points="82,522 132,522 182,562 252,582 332,592 402,622 442,662 442,702 382,732 302,742 242,722 182,682 132,622"/>
<polygon fill="#b8cce8" points="202,582 282,592 332,622 352,682 302,702 242,682 212,642"/>
<polygon fill="#a462c4" points="30,502 82,502 122,562 162,622 202,682 252,722 302,742 260,745 180,730 120,700 80,650 50,590"/>
<polygon fill="#8888e0" points="402,602 462,602 482,662 452,702 422,722 402,682"/>
<polygon fill="#e03a44" points="442,582 522,562 562,592 582,642 542,682 482,692 452,652"/>
<polygon fill="#8080e0" points="562,552 630,522 650,562 640,622 602,652 572,612"/>
<polygon fill="#ffffff" points="150,190 165,193 190,232 175,235"/>
<polygon fill="#ffffff" points="228,275 240,278 265,332 252,335"/>
</g>
<g transform="translate(82,632) scale(0.2)"><polygon fill="url(#gr)" points="270,30 330,40 400,70 470,100 540,130 580,170 590,220 595,270 610,290 630,330 650,400 655,470 660,540 650,600 620,650 560,680 480,700 420,720 340,740 260,745 180,730 120,700 80,650 50,590 30,530 22,460 20,380 20,300 22,230 40,180 80,130 140,90 200,55" transform="scale(1)"/></g>
<text x="152.7" y="14.6" class="hd" text-anchor="middle">MISO</text>
<text x="332.7" y="14.6" class="hd" text-anchor="middle">MUSE</text>
<text x="510.9" y="12.0" class="hd" text-anchor="middle">SpatialGlue</text>
<text x="4.8" y="27.9" class="pl">a</text>
<text x="3.4" y="181.2" class="pl">b</text>
<text x="3.6" y="342.6" class="pl">c</text>
<text x="3.6" y="502.4" class="pl">d</text>
<text x="226.9" y="503.4" class="pl">e</text>
<text x="3.3" y="658.4" class="pl">f</text>
<text x="39.0" y="76.3" class="rl" text-anchor="middle">RNA</text>
<text x="39.0" y="90.2" class="rl" text-anchor="middle">+</text>
<text x="39.0" y="104.1" class="rl" text-anchor="middle">Image</text>
<text x="39.0" y="230.7" class="rl" text-anchor="middle">RNA</text>
<text x="39.0" y="244.6" class="rl" text-anchor="middle">+</text>
<text x="39.0" y="258.5" class="rl" text-anchor="middle">Metabolomics</text>
<text x="39.0" y="386.3" class="rl" text-anchor="middle">Metabolomics</text>
<text x="39.0" y="400.2" class="rl" text-anchor="middle">+</text>
<text x="39.0" y="414.1" class="rl" text-anchor="middle">Image</text>
<text x="39.0" y="528.2" class="rl" text-anchor="middle">RNA</text>
<text x="39.0" y="542.1" class="rl" text-anchor="middle">+</text>
<text x="39.0" y="556.0" class="rl" text-anchor="middle">Metabolomics</text>
<text x="39.0" y="569.9" class="rl" text-anchor="middle">+</text>
<text x="39.0" y="583.8" class="rl" text-anchor="middle">Image</text>
<text x="39.0" y="692.1" class="rl" text-anchor="middle">RNA</text>
<text x="39.0" y="706.0" class="rl" text-anchor="middle">+</text>
<text x="39.0" y="719.9" class="rl" text-anchor="middle">Metabolomics</text>
<text x="39.0" y="733.8" class="rl" text-anchor="middle">+</text>
<text x="39.0" y="747.7" class="rl" text-anchor="middle">Image</text>
<rect x="601.2" y="16" width="63.6" height="154.5" fill="#fff" stroke="#222" stroke-width="1"/>
<text x="630.4" y="29.8" class="cl" text-anchor="middle">Cluster</text>
<circle cx="610.9" cy="41.20" r="2.6" fill="#4a7aa8"/>
<text x="621.5" y="43.40" class="ln">0</text>
<circle cx="610.9" cy="49.79" r="2.6" fill="#aec7e8"/>
<text x="621.5" y="51.99" class="ln">1</text>
<circle cx="610.9" cy="58.37" r="2.6" fill="#ef7f2a"/>
<text x="621.5" y="60.57" class="ln">2</text>
<circle cx="610.9" cy="66.96" r="2.6" fill="#f2b883"/>
<text x="621.5" y="69.16" class="ln">3</text>
<circle cx="610.9" cy="75.54" r="2.6" fill="#3d9b3d"/>
<text x="621.5" y="77.74" class="ln">4</text>
<circle cx="610.9" cy="84.12" r="2.6" fill="#98df8a"/>
<text x="621.5" y="86.33" class="ln">5</text>
<circle cx="610.9" cy="92.71" r="2.6" fill="#e69a9a"/>
<text x="621.5" y="94.91" class="ln">6</text>
<circle cx="610.9" cy="101.30" r="2.6" fill="#7a5cb8"/>
<text x="621.5" y="103.50" class="ln">7</text>
<circle cx="610.9" cy="109.88" r="2.6" fill="#bfb0d8"/>
<text x="621.5" y="112.08" class="ln">8</text>
<circle cx="610.9" cy="118.47" r="2.6" fill="#7a5048"/>
<text x="621.5" y="120.67" class="ln">9</text>
<circle cx="610.9" cy="127.05" r="2.6" fill="#b89a98"/>
<text x="621.5" y="129.25" class="ln">10</text>
<circle cx="610.9" cy="135.63" r="2.6" fill="#d670c8"/>
<text x="621.5" y="137.83" class="ln">11</text>
<circle cx="610.9" cy="144.22" r="2.6" fill="#7a7a80"/>
<text x="621.5" y="146.42" class="ln">12</text>
<circle cx="610.9" cy="152.81" r="2.6" fill="#c4c4c8"/>
<text x="621.5" y="155.00" class="ln">13</text>
<circle cx="610.9" cy="161.39" r="2.6" fill="#a8c040"/>
<text x="621.5" y="163.59" class="ln">14</text>
<circle cx="640.0" cy="41.20" r="2.6" fill="#d8dca0"/>
<text x="651.0" y="43.40" class="ln">15</text>
<circle cx="640.0" cy="49.79" r="2.6" fill="#4ec6cf"/>
<text x="651.0" y="51.99" class="ln">16</text>
<circle cx="640.0" cy="58.37" r="2.6" fill="#393b62"/>
<text x="651.0" y="60.57" class="ln">17</text>
<circle cx="640.0" cy="66.96" r="2.6" fill="#5254a0"/>
<text x="651.0" y="69.16" class="ln">18</text>
<circle cx="640.0" cy="75.54" r="2.6" fill="#6b6ecf"/>
<text x="651.0" y="77.74" class="ln">19</text>
<circle cx="640.0" cy="84.12" r="2.6" fill="#9c9ed0"/>
<text x="651.0" y="86.33" class="ln">20</text>
<circle cx="640.0" cy="92.71" r="2.6" fill="#637040"/>
<text x="651.0" y="94.91" class="ln">21</text>
<circle cx="640.0" cy="101.30" r="2.6" fill="#8a9a55"/>
<text x="651.0" y="103.50" class="ln">22</text>
<circle cx="640.0" cy="109.88" r="2.6" fill="#cfe0a0"/>
<text x="651.0" y="112.08" class="ln">23</text>
<circle cx="640.0" cy="118.47" r="2.6" fill="#7a6a30"/>
<text x="651.0" y="120.67" class="ln">24</text>
<circle cx="640.0" cy="127.05" r="2.6" fill="#a8a040"/>
<text x="651.0" y="129.25" class="ln">25</text>
<circle cx="640.0" cy="135.63" r="2.6" fill="#d0b860"/>
<text x="651.0" y="137.83" class="ln">26</text>
<circle cx="640.0" cy="144.22" r="2.6" fill="#dccca0"/>
<text x="651.0" y="146.42" class="ln">27</text>
<circle cx="640.0" cy="152.81" r="2.6" fill="#6a3038"/>
<text x="651.0" y="155.00" class="ln">28</text>
<circle cx="640.0" cy="161.39" r="2.6" fill="#c85a70"/>
<text x="651.0" y="163.59" class="ln">29</text>
<line x1="228.6" y1="518" x2="228.6" y2="644.3" stroke="#c8c8c8" stroke-width="1"/>
<line x1="228.6" y1="644.3" x2="678" y2="644.3" stroke="#c8c8c8" stroke-width="1.1"/>
<text x="227.3" y="642.0" class="tk" text-anchor="end">0.0</text>
<text x="227.3" y="618.4" class="tk" text-anchor="end">0.2</text>
<text x="227.3" y="594.8" class="tk" text-anchor="end">0.4</text>
<text x="227.3" y="571.1" class="tk" text-anchor="end">0.6</text>
<text x="227.3" y="547.5" class="tk" text-anchor="end">0.8</text>
<text x="227.3" y="523.9" class="tk" text-anchor="end">1.0</text>
<text class="yl" transform="translate(216.2,580.5) rotate(-90)" text-anchor="middle">ICC</text>
<line x1="250.1" y1="521.0" x2="250.1" y2="530.4" class="wh"/>
<line x1="250.1" y1="610.8" x2="250.1" y2="637.9" class="wh"/>
<line x1="247.1" y1="521.0" x2="253.1" y2="521.0" class="wh"/>
<line x1="247.1" y1="637.9" x2="253.1" y2="637.9" class="wh"/>
<rect x="244.4" y="530.4" width="11.4" height="80.3" fill="#4a7db0" class="bx"/>
<line x1="244.4" y1="569.4" x2="255.8" y2="569.4" class="md"/>
<line x1="262.4" y1="521.0" x2="262.4" y2="529.3" class="wh"/>
<line x1="262.4" y1="606.6" x2="262.4" y2="636.7" class="wh"/>
<line x1="259.4" y1="521.0" x2="265.4" y2="521.0" class="wh"/>
<line x1="259.4" y1="636.7" x2="265.4" y2="636.7" class="wh"/>
<rect x="256.7" y="529.3" width="11.4" height="77.4" fill="#76aad2" class="bx"/>
<line x1="256.7" y1="570.0" x2="268.1" y2="570.0" class="md"/>
<line x1="274.6" y1="521.0" x2="274.6" y2="537.9" class="wh"/>
<line x1="274.6" y1="612.3" x2="274.6" y2="639.1" class="wh"/>
<line x1="271.6" y1="521.0" x2="277.6" y2="521.0" class="wh"/>
<line x1="271.6" y1="639.1" x2="277.6" y2="639.1" class="wh"/>
<rect x="268.9" y="537.9" width="11.4" height="74.4" fill="#a0c6e1" class="bx"/>
<line x1="268.9" y1="579.3" x2="280.3" y2="579.3" class="md"/>
<line x1="286.9" y1="521.0" x2="286.9" y2="567.1" class="wh"/>
<line x1="286.9" y1="628.5" x2="286.9" y2="639.1" class="wh"/>
<line x1="283.9" y1="521.0" x2="289.9" y2="521.0" class="wh"/>
<line x1="283.9" y1="639.1" x2="289.9" y2="639.1" class="wh"/>
<rect x="281.2" y="567.1" width="11.4" height="61.4" fill="#c8dcee" class="bx"/>
<line x1="281.2" y1="608.4" x2="292.6" y2="608.4" class="md"/>
<line x1="299.2" y1="521.0" x2="299.2" y2="581.2" class="wh"/>
<line x1="299.2" y1="629.2" x2="299.2" y2="639.1" class="wh"/>
<line x1="296.2" y1="521.0" x2="302.2" y2="521.0" class="wh"/>
<line x1="296.2" y1="639.1" x2="302.2" y2="639.1" class="wh"/>
<rect x="293.5" y="581.2" width="11.4" height="47.9" fill="#e48746" class="bx"/>
<line x1="293.5" y1="612.3" x2="304.9" y2="612.3" class="md"/>
<line x1="311.4" y1="521.0" x2="311.4" y2="554.1" class="wh"/>
<line x1="311.4" y1="625.5" x2="311.4" y2="639.1" class="wh"/>
<line x1="308.4" y1="521.0" x2="314.4" y2="521.0" class="wh"/>
<line x1="308.4" y1="639.1" x2="314.4" y2="639.1" class="wh"/>
<rect x="305.8" y="554.1" width="11.4" height="71.5" fill="#ebaa78" class="bx"/>
<line x1="305.8" y1="597.4" x2="317.1" y2="597.4" class="md"/>
<line x1="323.7" y1="542.6" x2="323.7" y2="595.8" class="wh"/>
<line x1="323.7" y1="631.4" x2="323.7" y2="639.1" class="wh"/>
<line x1="320.7" y1="542.6" x2="326.7" y2="542.6" class="wh"/>
<line x1="320.7" y1="639.1" x2="326.7" y2="639.1" class="wh"/>
<line x1="323.7" y1="521.0" x2="323.7" y2="541.6" class="ol"/>
<rect x="318.0" y="595.8" width="11.4" height="35.7" fill="#f0cda5" class="bx"/>
<line x1="318.0" y1="618.3" x2="329.4" y2="618.3" class="md"/>
<line x1="336.0" y1="521.0" x2="336.0" y2="559.0" class="wh"/>
<line x1="336.0" y1="627.3" x2="336.0" y2="639.1" class="wh"/>
<line x1="333.0" y1="521.0" x2="339.0" y2="521.0" class="wh"/>
<line x1="333.0" y1="639.1" x2="339.0" y2="639.1" class="wh"/>
<rect x="330.3" y="559.0" width="11.4" height="68.3" fill="#73b96e" class="bx"/>
<line x1="330.3" y1="601.9" x2="341.7" y2="601.9" class="md"/>
<line x1="348.3" y1="521.0" x2="348.3" y2="531.6" class="wh"/>
<line x1="348.3" y1="623.2" x2="348.3" y2="639.1" class="wh"/>
<line x1="345.3" y1="521.0" x2="351.3" y2="521.0" class="wh"/>
<line x1="345.3" y1="639.1" x2="351.3" y2="639.1" class="wh"/>
<rect x="342.6" y="531.6" width="11.4" height="91.5" fill="#a0d796" class="bx"/>
<line x1="342.6" y1="577.7" x2="354.0" y2="577.7" class="md"/>
<line x1="360.5" y1="521.0" x2="360.5" y2="585.4" class="wh"/>
<line x1="360.5" y1="627.5" x2="360.5" y2="639.1" class="wh"/>
<line x1="357.5" y1="521.0" x2="363.5" y2="521.0" class="wh"/>
<line x1="357.5" y1="639.1" x2="363.5" y2="639.1" class="wh"/>
<line x1="360.5" y1="521.0" x2="360.5" y2="520.0" class="ol"/>
<rect x="354.8" y="585.4" width="11.4" height="42.2" fill="#cde8c8" class="bx"/>
<line x1="354.8" y1="612.1" x2="366.2" y2="612.1" class="md"/>
<line x1="403.2" y1="543.9" x2="403.2" y2="590.1" class="wh"/>
<line x1="403.2" y1="620.8" x2="403.2" y2="635.6" class="wh"/>
<line x1="400.2" y1="543.9" x2="406.2" y2="543.9" class="wh"/>
<line x1="400.2" y1="635.6" x2="406.2" y2="635.6" class="wh"/>
<line x1="403.2" y1="521.0" x2="403.2" y2="542.9" class="ol"/>
<rect x="397.5" y="590.1" width="11.4" height="30.7" fill="#4a7db0" class="bx"/>
<line x1="397.5" y1="610.8" x2="408.9" y2="610.8" class="md"/>
<line x1="415.5" y1="547.0" x2="415.5" y2="592.5" class="wh"/>
<line x1="415.5" y1="623.4" x2="415.5" y2="636.7" class="wh"/>
<line x1="412.5" y1="547.0" x2="418.5" y2="547.0" class="wh"/>
<line x1="412.5" y1="636.7" x2="418.5" y2="636.7" class="wh"/>
<line x1="415.5" y1="521.0" x2="415.5" y2="546.0" class="ol"/>
<rect x="409.8" y="592.5" width="11.4" height="30.9" fill="#76aad2" class="bx"/>
<line x1="409.8" y1="614.3" x2="421.2" y2="614.3" class="md"/>
<line x1="427.7" y1="557.6" x2="427.7" y2="596.6" class="wh"/>
<line x1="427.7" y1="622.6" x2="427.7" y2="636.7" class="wh"/>
<line x1="424.7" y1="557.6" x2="430.7" y2="557.6" class="wh"/>
<line x1="424.7" y1="636.7" x2="430.7" y2="636.7" class="wh"/>
<line x1="427.7" y1="521.0" x2="427.7" y2="556.6" class="ol"/>
<rect x="422.0" y="596.6" width="11.4" height="26.0" fill="#a0c6e1" class="bx"/>
<line x1="422.0" y1="615.5" x2="433.4" y2="615.5" class="md"/>
<line x1="440.0" y1="549.9" x2="440.0" y2="594.2" class="wh"/>
<line x1="440.0" y1="624.1" x2="440.0" y2="636.7" class="wh"/>
<line x1="437.0" y1="549.9" x2="443.0" y2="549.9" class="wh"/>
<line x1="437.0" y1="636.7" x2="443.0" y2="636.7" class="wh"/>
<line x1="440.0" y1="521.0" x2="440.0" y2="548.9" class="ol"/>
<rect x="434.3" y="594.2" width="11.4" height="29.9" fill="#c8dcee" class="bx"/>
<line x1="434.3" y1="615.5" x2="445.7" y2="615.5" class="md"/>
<line x1="452.3" y1="600.1" x2="452.3" y2="618.2" class="wh"/>
<line x1="452.3" y1="629.7" x2="452.3" y2="636.7" class="wh"/>
<line x1="449.3" y1="600.1" x2="455.3" y2="600.1" class="wh"/>
<line x1="449.3" y1="636.7" x2="455.3" y2="636.7" class="wh"/>
<line x1="452.3" y1="521.0" x2="452.3" y2="599.1" class="ol"/>
<rect x="446.6" y="618.2" width="11.4" height="11.5" fill="#e48746" class="bx"/>
<line x1="446.6" y1="626.1" x2="458.0" y2="626.1" class="md"/>
<line x1="464.5" y1="582.4" x2="464.5" y2="609.6" class="wh"/>
<line x1="464.5" y1="627.5" x2="464.5" y2="636.7" class="wh"/>
<line x1="461.5" y1="582.4" x2="467.5" y2="582.4" class="wh"/>
<line x1="461.5" y1="636.7" x2="467.5" y2="636.7" class="wh"/>
<line x1="464.5" y1="521.0" x2="464.5" y2="581.4" class="ol"/>
<rect x="458.8" y="609.6" width="11.4" height="18.0" fill="#ebaa78" class="bx"/>
<line x1="458.8" y1="622.1" x2="470.2" y2="622.1" class="md"/>
<line x1="476.8" y1="603.7" x2="476.8" y2="620.0" class="wh"/>
<line x1="476.8" y1="630.2" x2="476.8" y2="636.7" class="wh"/>
<line x1="473.8" y1="603.7" x2="479.8" y2="603.7" class="wh"/>
<line x1="473.8" y1="636.7" x2="479.8" y2="636.7" class="wh"/>
<line x1="476.8" y1="523.4" x2="476.8" y2="602.7" class="ol"/>
<rect x="471.1" y="620.0" width="11.4" height="10.3" fill="#f0cda5" class="bx"/>
<line x1="471.1" y1="627.5" x2="482.5" y2="627.5" class="md"/>
<line x1="489.1" y1="567.1" x2="489.1" y2="604.1" class="wh"/>
<line x1="489.1" y1="628.5" x2="489.1" y2="636.7" class="wh"/>
<line x1="486.1" y1="567.1" x2="492.1" y2="567.1" class="wh"/>
<line x1="486.1" y1="636.7" x2="492.1" y2="636.7" class="wh"/>
<line x1="489.1" y1="522.2" x2="489.1" y2="566.1" class="ol"/>
<rect x="483.4" y="604.1" width="11.4" height="24.3" fill="#73b96e" class="bx"/>
<line x1="483.4" y1="621.1" x2="494.8" y2="621.1" class="md"/>
<line x1="501.4" y1="595.4" x2="501.4" y2="616.7" class="wh"/>
<line x1="501.4" y1="631.1" x2="501.4" y2="637.9" class="wh"/>
<line x1="498.4" y1="595.4" x2="504.4" y2="595.4" class="wh"/>
<line x1="498.4" y1="637.9" x2="504.4" y2="637.9" class="wh"/>
<line x1="501.4" y1="524.5" x2="501.4" y2="594.4" class="ol"/>
<rect x="495.7" y="616.7" width="11.4" height="14.4" fill="#a0d796" class="bx"/>
<line x1="495.7" y1="627.3" x2="507.1" y2="627.3" class="md"/>
<line x1="513.6" y1="568.2" x2="513.6" y2="604.4" class="wh"/>
<line x1="513.6" y1="628.2" x2="513.6" y2="637.9" class="wh"/>
<line x1="510.6" y1="568.2" x2="516.6" y2="568.2" class="wh"/>
<line x1="510.6" y1="637.9" x2="516.6" y2="637.9" class="wh"/>
<line x1="513.6" y1="523.4" x2="513.6" y2="567.2" class="ol"/>
<rect x="507.9" y="604.4" width="11.4" height="23.9" fill="#cde8c8" class="bx"/>
<line x1="507.9" y1="621.1" x2="519.3" y2="621.1" class="md"/>
<line x1="556.4" y1="524.5" x2="556.4" y2="572.0" class="wh"/>
<line x1="556.4" y1="617.5" x2="556.4" y2="636.7" class="wh"/>
<line x1="553.4" y1="524.5" x2="559.4" y2="524.5" class="wh"/>
<line x1="553.4" y1="636.7" x2="559.4" y2="636.7" class="wh"/>
<rect x="550.7" y="572.0" width="11.4" height="45.5" fill="#4a7db0" class="bx"/>
<line x1="550.7" y1="593.0" x2="562.1" y2="593.0" class="md"/>
<line x1="568.7" y1="525.7" x2="568.7" y2="577.7" class="wh"/>
<line x1="568.7" y1="618.4" x2="568.7" y2="636.7" class="wh"/>
<line x1="565.7" y1="525.7" x2="571.7" y2="525.7" class="wh"/>
<line x1="565.7" y1="636.7" x2="571.7" y2="636.7" class="wh"/>
<rect x="563.0" y="577.7" width="11.4" height="40.7" fill="#76aad2" class="bx"/>
<line x1="563.0" y1="600.1" x2="574.4" y2="600.1" class="md"/>
<line x1="580.9" y1="524.5" x2="580.9" y2="576.5" class="wh"/>
<line x1="580.9" y1="618.8" x2="580.9" y2="636.7" class="wh"/>
<line x1="577.9" y1="524.5" x2="583.9" y2="524.5" class="wh"/>
<line x1="577.9" y1="636.7" x2="583.9" y2="636.7" class="wh"/>
<rect x="575.2" y="576.5" width="11.4" height="42.3" fill="#a0c6e1" class="bx"/>
<line x1="575.2" y1="602.0" x2="586.6" y2="602.0" class="md"/>
<line x1="593.2" y1="523.4" x2="593.2" y2="577.7" class="wh"/>
<line x1="593.2" y1="623.4" x2="593.2" y2="639.1" class="wh"/>
<line x1="590.2" y1="523.4" x2="596.2" y2="523.4" class="wh"/>
<line x1="590.2" y1="639.1" x2="596.2" y2="639.1" class="wh"/>
<rect x="587.5" y="577.7" width="11.4" height="45.7" fill="#c8dcee" class="bx"/>
<line x1="587.5" y1="607.4" x2="598.9" y2="607.4" class="md"/>
<line x1="605.5" y1="545.8" x2="605.5" y2="594.7" class="wh"/>
<line x1="605.5" y1="627.3" x2="605.5" y2="636.7" class="wh"/>
<line x1="602.5" y1="545.8" x2="608.5" y2="545.8" class="wh"/>
<line x1="602.5" y1="636.7" x2="608.5" y2="636.7" class="wh"/>
<line x1="605.5" y1="526.3" x2="605.5" y2="544.8" class="ol"/>
<rect x="599.8" y="594.7" width="11.4" height="32.6" fill="#e48746" class="bx"/>
<line x1="599.8" y1="617.1" x2="611.2" y2="617.1" class="md"/>
<line x1="617.8" y1="525.4" x2="617.8" y2="582.9" class="wh"/>
<line x1="617.8" y1="624.9" x2="617.8" y2="639.1" class="wh"/>
<line x1="614.8" y1="525.4" x2="620.8" y2="525.4" class="wh"/>
<line x1="614.8" y1="639.1" x2="620.8" y2="639.1" class="wh"/>
<rect x="612.0" y="582.9" width="11.4" height="42.0" fill="#ebaa78" class="bx"/>
<line x1="612.0" y1="613.1" x2="623.4" y2="613.1" class="md"/>
<line x1="630.0" y1="561.5" x2="630.0" y2="601.3" class="wh"/>
<line x1="630.0" y1="628.5" x2="630.0" y2="636.7" class="wh"/>
<line x1="627.0" y1="561.5" x2="633.0" y2="561.5" class="wh"/>
<line x1="627.0" y1="636.7" x2="633.0" y2="636.7" class="wh"/>
<line x1="630.0" y1="531.6" x2="630.0" y2="560.5" class="ol"/>
<rect x="624.3" y="601.3" width="11.4" height="27.2" fill="#f0cda5" class="bx"/>
<line x1="624.3" y1="620.6" x2="635.7" y2="620.6" class="md"/>
<line x1="642.3" y1="556.4" x2="642.3" y2="599.5" class="wh"/>
<line x1="642.3" y1="628.5" x2="642.3" y2="637.9" class="wh"/>
<line x1="639.3" y1="556.4" x2="645.3" y2="556.4" class="wh"/>
<line x1="639.3" y1="637.9" x2="645.3" y2="637.9" class="wh"/>
<line x1="642.3" y1="528.1" x2="642.3" y2="555.4" class="ol"/>
<rect x="636.6" y="599.5" width="11.4" height="28.9" fill="#73b96e" class="bx"/>
<line x1="636.6" y1="620.2" x2="648.0" y2="620.2" class="md"/>
<line x1="654.6" y1="542.3" x2="654.6" y2="594.2" class="wh"/>
<line x1="654.6" y1="629.3" x2="654.6" y2="639.1" class="wh"/>
<line x1="651.6" y1="542.3" x2="657.6" y2="542.3" class="wh"/>
<line x1="651.6" y1="639.1" x2="657.6" y2="639.1" class="wh"/>
<line x1="654.6" y1="529.3" x2="654.6" y2="541.3" class="ol"/>
<rect x="648.9" y="594.2" width="11.4" height="35.1" fill="#a0d796" class="bx"/>
<line x1="648.9" y1="620.6" x2="660.3" y2="620.6" class="md"/>
<line x1="666.8" y1="559.3" x2="666.8" y2="599.8" class="wh"/>
<line x1="666.8" y1="627.3" x2="666.8" y2="636.7" class="wh"/>
<line x1="663.8" y1="559.3" x2="669.8" y2="559.3" class="wh"/>
<line x1="663.8" y1="636.7" x2="669.8" y2="636.7" class="wh"/>
<line x1="666.8" y1="528.7" x2="666.8" y2="558.3" class="ol"/>
<rect x="661.1" y="599.8" width="11.4" height="27.5" fill="#cde8c8" class="bx"/>
<line x1="661.1" y1="618.8" x2="672.5" y2="618.8" class="md"/>
<text x="261.6" y="567.6" class="mn" text-anchor="middle">0.58</text>
<text x="311.2" y="592.9" class="mn" text-anchor="middle">0.43</text>
<text x="348.4" y="577.5" class="mn" text-anchor="middle">0.51</text>
<text x="403.2" y="608.1" class="mn" text-anchor="middle">0.31</text>
<text x="464.7" y="620.4" class="mn" text-anchor="middle">0.22</text>
<text x="513.3" y="618.8" class="mn" text-anchor="middle">0.24</text>
<text x="556.0" y="597.1" class="mn" text-anchor="middle">0.39</text>
<text x="617.1" y="610.5" class="mn" text-anchor="middle">0.31</text>
<text x="653.6" y="616.4" class="mn" text-anchor="middle">0.25</text>
<text x="305.6" y="651.9" class="gl" text-anchor="middle">RNA</text>
<text x="458.4" y="651.9" class="gl" text-anchor="middle">Image</text>
<text x="611.9" y="651.9" class="gl" text-anchor="middle">Metabolomics</text>
<text x="380.5" y="509.5" class="ti">ICC distribution across all clusters</text>
<text x="239.1" y="665.8" class="st">MISO&gt;MUSE: t=12.60 (p=7.91e-36)</text>
<text x="236.8" y="680.6" class="st">MISO&gt;SpatialGlue: t=5.33 (p=5.31e-08)</text>
<text x="395.8" y="665.8" class="st">MISO&gt;MUSE: t=12.18 (p=1.20e-33)</text>
<text x="393.6" y="680.7" class="st">MISO&gt;SpatialGlue: t=8.58 (p=7.81e-18)</text>
<text x="548.6" y="665.8" class="st">MISO&gt;MUSE: t=8.50 (p=2.92e-17)</text>
<text x="541.6" y="680.7" class="st">MISO&gt;SpatialGlue: t=15.93 (p=6.32e-55)</text>
<rect x="409.1" y="697.6" width="113.3" height="80.6" fill="#fff" stroke="#e4e4e4" stroke-width="0.8" rx="1"/>
<rect x="411" y="701.1" width="10.8" height="3.2" fill="#4a7db0" stroke="#999" stroke-width="0.3"/>
<text x="426.6" y="704.7" class="lg">MISO: RNA+Image+Metabolomics</text>
<rect x="411" y="709.0" width="10.8" height="3.2" fill="#76aad2" stroke="#999" stroke-width="0.3"/>
<text x="426.6" y="712.6" class="lg">MISO: RNA+Image</text>
<rect x="411" y="716.9" width="10.8" height="3.2" fill="#a0c6e1" stroke="#999" stroke-width="0.3"/>
<text x="426.6" y="720.5" class="lg">MISO: RNA+Metabolomics</text>
<rect x="411" y="724.8" width="10.8" height="3.2" fill="#c8dcee" stroke="#999" stroke-width="0.3"/>
<text x="426.6" y="728.4" class="lg">MISO: Metabolomics+Image</text>
<rect x="411" y="732.7" width="10.8" height="3.2" fill="#e48746" stroke="#999" stroke-width="0.3"/>
<text x="426.6" y="736.3" class="lg">MUSE: RNA+Image</text>
<rect x="411" y="740.6" width="10.8" height="3.2" fill="#ebaa78" stroke="#999" stroke-width="0.3"/>
<text x="426.6" y="744.2" class="lg">MUSE: RNA+Metabolomics</text>
<rect x="411" y="748.4" width="10.8" height="3.2" fill="#f0cda5" stroke="#999" stroke-width="0.3"/>
<text x="426.6" y="752.0" class="lg">MUSE: Metabolomics+Image</text>
<rect x="411" y="756.3" width="10.8" height="3.2" fill="#73b96e" stroke="#999" stroke-width="0.3"/>
<text x="426.6" y="759.9" class="lg">SpatialGlue: RNA+Image</text>
<rect x="411" y="764.2" width="10.8" height="3.2" fill="#a0d796" stroke="#999" stroke-width="0.3"/>
<text x="426.6" y="767.8" class="lg">SpatialGlue: RNA+Metabolomics</text>
<rect x="411" y="772.1" width="10.8" height="3.2" fill="#cde8c8" stroke="#999" stroke-width="0.3"/>
<text x="426.6" y="775.7" class="lg">SpatialGlue: Metabolomics+Image</text>
</svg>
</body></html>
